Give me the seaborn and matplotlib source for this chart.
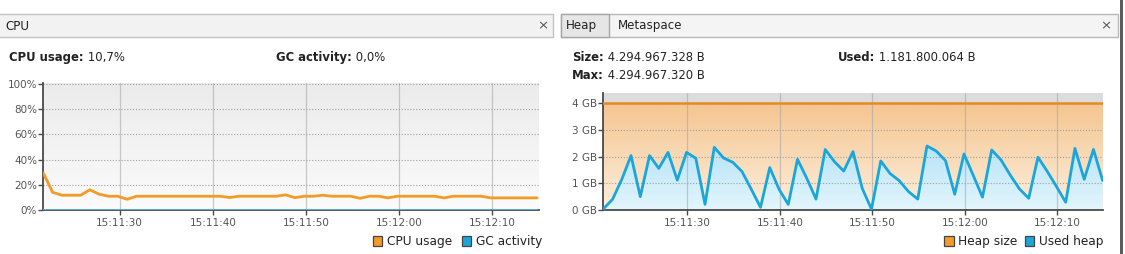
import numpy as np
import pandas as pd
import matplotlib
matplotlib.use("Agg")
import matplotlib.pyplot as plt
import seaborn as sns
from matplotlib.patches import Rectangle
from matplotlib.colors import LinearSegmentedColormap
from matplotlib.ticker import FixedLocator, FixedFormatter

# ---------------- data ----------------
cpu_start = "15:11:21.8"          # first CPU sample
heap_start = "15:11:20.9"         # first heap sample
sample_step_s = 1.0
cpu_view_end = "15:12:15.0"

cpu_usage_pct = [29.3, 14.0, 11.7, 11.7, 11.7, 16.0, 12.5, 10.9, 10.9, 8.5,
                 10.9, 10.9, 10.9, 10.9, 10.9, 10.9, 10.9, 10.9, 10.9, 10.9,
                 9.9, 10.9, 10.9, 10.9, 10.9, 10.9, 12.0, 9.8, 10.9, 10.9,
                 11.7, 10.9, 10.9, 10.9, 9.3, 10.9, 10.9, 9.6, 10.9, 10.9,
                 10.9, 10.9, 10.9, 9.6, 10.9, 10.9, 10.9, 10.9, 9.6, 9.6,
                 9.6, 9.6, 9.6, 9.6]
gc_activity_pct = [0.0] * len(cpu_usage_pct)

heap_used_gb = [0.04, 0.40, 1.15, 2.04, 0.50, 2.04, 1.56, 2.16, 1.12, 2.16,
                1.94, 0.21, 2.35, 1.95, 1.79, 1.44, 0.78, 0.10, 1.59, 0.78,
                0.21, 1.90, 1.19, 0.41, 2.27, 1.81, 1.46, 2.19, 0.81, 0.03,
                1.84, 1.37, 1.10, 0.69, 0.41, 2.40, 2.21, 1.85, 0.59, 2.10,
                1.30, 0.48, 2.25, 1.88, 1.31, 0.79, 0.44, 1.98, 1.45, 0.88,
                0.29, 2.31, 1.15, 2.27, 1.10]
heap_size_gb = [4.0] * len(heap_used_gb)

x_tick_labels = ["15:11:30", "15:11:40", "15:11:50", "15:12:00", "15:12:10"]
cpu_tick_labels = ["0%", "20%", "40%", "60%", "80%", "100%"]
heap_tick_labels = ["0 GB", "1 GB", "2 GB", "3 GB", "4 GB"]

cpu_stats = [("CPU usage:", " 10,7%"), ("GC activity:", " 0,0%")]
heap_stats = [("Size:", " 4.294.967.328 B"), ("Used:", " 1.181.800.064 B"),
              ("Max:", " 4.294.967.320 B")]
cpu_legend = ["CPU usage", "GC activity"]
heap_legend = ["Heap size", "Used heap"]

# ---------------- helpers ----------------
def secs(s):
    h, m, sec = s.split(":")
    return int(h) * 3600 + int(m) * 60 + float(sec)

cpu_t = secs(cpu_start) + sample_step_s * np.arange(len(cpu_usage_pct))
heap_t = secs(heap_start) + sample_step_s * np.arange(len(heap_used_gb))
x_ticks = [secs(s) for s in x_tick_labels]
cpu_ticks = [float(s.rstrip("%")) for s in cpu_tick_labels]
heap_ticks = [float(s.split()[0]) for s in heap_tick_labels]

W, H = 1125, 254
sns.set_theme(style="white")
plt.rcParams['font.family'] = ['DejaVu Sans']

fig = plt.figure(figsize=(W / 100, H / 100), dpi=100)
fig.patch.set_facecolor("white")

bg = fig.add_axes([0, 0, 1, 1])
bg.set_xlim(0, W)
bg.set_ylim(H, 0)
bg.axis("off")
bg.set_zorder(-5)

def rect(l, t, r, b):
    return [l / W, 1 - b / H, (r - l) / W, (b - t) / H]

ORANGE = "#f29b26"
BLUE = "#1ba6da"
TXT = "#222222"
TICK = "#555555"

# ---------------- window chrome ----------------
bg.add_patch(Rectangle((-2, 14.3), 555, 23, facecolor="#f2f2f2", edgecolor="#c2c2c2", lw=1))
bg.add_patch(Rectangle((560.5, 14.3), 557, 23, facecolor="#f4f4f4", edgecolor="#b8b8b8", lw=1))
bg.add_patch(Rectangle((560.5, 14.3), 48.5, 23, facecolor="#e6e6e6", edgecolor="#a6a6a6", lw=1))
bg.add_patch(Rectangle((1119.5, 0), 3.5, H, facecolor="#5c5c5c", edgecolor="none"))

bg.text(5, 26, "CPU", fontsize=8.6, color=TXT, va="center", ha="left")
bg.text(543, 26, "\u00d7", fontsize=9.5, color="#555555", va="center", ha="center")
bg.text(566, 26, "Heap", fontsize=8.6, color=TXT, va="center", ha="left")
bg.text(618, 26, "Metaspace", fontsize=8.6, color=TXT, va="center", ha="left")
bg.text(1106, 26, "\u00d7", fontsize=9.5, color="#555555", va="center", ha="center")

renderer = fig.canvas.get_renderer()

def stat(x, y, label, value):
    t = bg.text(x, y, label, fontsize=8.4, weight="bold", color=TXT, va="center", ha="left")
    w = t.get_window_extent(renderer).width
    bg.text(x + w, y, value, fontsize=8.4, color=TXT, va="center", ha="left")

stat(9, 57.5, *cpu_stats[0])
stat(276, 57.5, *cpu_stats[1])
stat(572, 57.5, *heap_stats[0])
stat(838, 57.5, *heap_stats[1])
stat(572, 75.5, *heap_stats[2])

def legend_item(x, label, color):
    bg.add_patch(Rectangle((x, 236.3), 9.5, 9.5, facecolor=color, edgecolor="#444444", lw=0.9))
    bg.text(x + 14.5, 241.2, label, fontsize=8.7, color=TXT, va="center", ha="left")

legend_item(372.5, cpu_legend[0], ORANGE)
legend_item(461.5, cpu_legend[1], BLUE)
legend_item(944, heap_legend[0], ORANGE)
legend_item(1024.5, heap_legend[1], BLUE)

# ---------------- axes styling ----------------
def style_axis(ax, yticks, ylabels):
    for s in ("top", "right"):
        ax.spines[s].set_visible(False)
    for s in ("left", "bottom"):
        ax.spines[s].set_color("#4a4a4a")
        ax.spines[s].set_linewidth(1.3)
    ax.xaxis.set_major_locator(FixedLocator(x_ticks))
    ax.xaxis.set_major_formatter(FixedFormatter(x_tick_labels))
    ax.yaxis.set_major_locator(FixedLocator(yticks))
    ax.yaxis.set_major_formatter(FixedFormatter(ylabels))
    ax.tick_params(axis="both", which="major", length=3.5, width=1, color="#4a4a4a",
                   labelsize=7.5, labelcolor=TICK, direction="out")
    ax.tick_params(axis="x", pad=2.5, bottom=True)
    ax.tick_params(axis="y", pad=1, left=True)
    ax.set_xlabel("")
    ax.set_ylabel("")
    ax.set_axisbelow("line")
    ax.xaxis.grid(True, color="#a8a8a8", lw=0.9, ls="-", alpha=0.6)
    ax.yaxis.grid(True, color="#a0a0a0", lw=0.8, ls=(0, (1, 1.6)))

# ---------------- CPU chart ----------------
ax1 = fig.add_axes(rect(43.3, 82.5, 539, 210))
cpu_top = 101.0
x0, x1 = cpu_t[0], secs(cpu_view_end)
ax1.set_xlim(x0, x1)
ax1.set_ylim(0, cpu_top)
cm_bg = LinearSegmentedColormap.from_list("bg", ["#fbfbfb", "#ebebeb"])
ax1.imshow(np.linspace(0, 1, 256).reshape(-1, 1), cmap=cm_bg, aspect="auto",
           origin="lower", extent=[x0, x1, 0, cpu_top], zorder=0)
sns.lineplot(x=cpu_t, y=gc_activity_pct, ax=ax1, color="#5aaed8", lw=1.4, legend=False, zorder=3)
sns.lineplot(x=cpu_t, y=cpu_usage_pct, ax=ax1, color=ORANGE, lw=2.0, legend=False, zorder=4)
ax1.set_xlim(x0, x1)
ax1.set_ylim(0, cpu_top)
style_axis(ax1, cpu_ticks, cpu_tick_labels)

# ---------------- Heap chart ----------------
ax2 = fig.add_axes(rect(603.3, 93.3, 1102.7, 210))
heap_top = 4.375
h0, h1 = heap_t[0], heap_t[-1]
ax2.set_facecolor("#dcdcdc")
ax2.set_xlim(h0, h1)
ax2.set_ylim(0, heap_top)

grad = np.linspace(0, 1, 256).reshape(-1, 1)
size_poly = ax2.fill_between(heap_t, 0, heap_size_gb, facecolor="none", edgecolor="none", lw=0)
cm_or = LinearSegmentedColormap.from_list("or", ["#fdefdd", "#f5c590"])
im_or = ax2.imshow(grad, cmap=cm_or, aspect="auto", origin="lower",
                   extent=[h0, h1, 0, max(heap_size_gb)], zorder=1)
im_or.set_clip_path(size_poly.get_paths()[0], transform=ax2.transData)

used_poly = ax2.fill_between(heap_t, 0, heap_used_gb, facecolor="none", edgecolor="none", lw=0)
cm_bl = LinearSegmentedColormap.from_list("bl", ["#e3f6fd", "#b6e3f7"])
im_bl = ax2.imshow(grad, cmap=cm_bl, aspect="auto", origin="lower",
                   extent=[h0, h1, 0, max(heap_used_gb)], zorder=1.1)
im_bl.set_clip_path(used_poly.get_paths()[0], transform=ax2.transData)

sns.lineplot(x=heap_t, y=heap_size_gb, ax=ax2, color="#e38b26", lw=1.8, legend=False, zorder=3)
sns.lineplot(x=heap_t, y=heap_used_gb, ax=ax2, color=BLUE, lw=2.0, legend=False, zorder=4)
ax2.set_xlim(h0, h1)
ax2.set_ylim(0, heap_top)
style_axis(ax2, heap_ticks, heap_tick_labels)

fig.savefig("out.png", dpi=100, facecolor="white")
